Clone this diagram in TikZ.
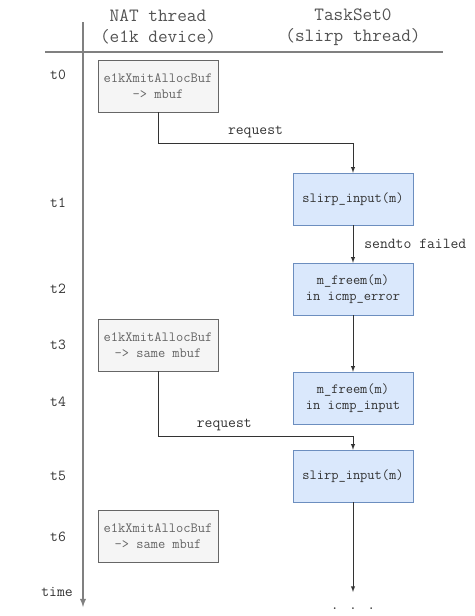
\documentclass[tikz,border=0pt]{standalone}
\usepackage{fontspec}
\definecolor{natfill}{HTML}{F5F5F5}
\definecolor{natline}{HTML}{666666}
\definecolor{slirpfill}{HTML}{DAE8FC}
\definecolor{slirpline}{HTML}{6C8EBF}
\definecolor{axisgray}{HTML}{808080}
\definecolor{txtgray}{HTML}{333333}
\begin{document}
\begin{tikzpicture}[x=0.03cm,y=-0.03cm,>=latex,
  natbox/.style={draw=natline,fill=natfill,text=natline,minimum width=3.6cm,minimum height=1.56cm,
    inner sep=0pt,align=center,font=\fontsize{12}{13.5}\selectfont\ttfamily},
  slirpbox/.style={draw=slirpline,fill=slirpfill,text=txtgray,minimum width=3.6cm,minimum height=1.56cm,
    inner sep=0pt,align=center,font=\fontsize{12}{13.5}\selectfont\ttfamily},
  head/.style={text=txtgray!85,align=center,font=\fontsize{16}{18}\selectfont\ttfamily},
  tlab/.style={text=txtgray,font=\fontsize{13}{14}\selectfont\ttfamily},
  msg/.style={text=txtgray,font=\fontsize{13}{14}\selectfont\ttfamily},
  flow/.style={->,draw=txtgray,line width=0.7pt}]
 \useasboundingbox (0,0) rectangle (474,616);
 \node[head] (hnat) at (158,27) {NAT thread\\(e1k device)};
 \node[head] (hslirp) at (353,27) {TaskSet0\\(slirp thread)};
 \coordinate (ttop) at (83,22);
 \coordinate (tbot) at (83,607);
 \draw[->,axisgray,line width=1.4pt] (ttop)--(tbot);
 \draw[axisgray,line width=1.2pt] (45,52)--(443,52);
 \node[tlab] (t0) at (58,75) {t0};
 \node[tlab] (t1) at (58,203) {t1};
 \node[tlab] (t2) at (58,289) {t2};
 \node[tlab] (t3) at (58,345) {t3};
 \node[tlab] (t4) at (58,402) {t4};
 \node[tlab] (t5) at (58,476) {t5};
 \node[tlab] (t6) at (58,537) {t6};
 \node[tlab] (ttime) at (57,592) {time};
 \node[natbox] (alloc0) at (158,86) {e1kXmitAllocBuf\\-> mbuf};
 \node[natbox] (alloc1) at (158,345) {e1kXmitAllocBuf\\-> same mbuf};
 \node[natbox] (alloc2) at (158,536) {e1kXmitAllocBuf\\-> same mbuf};
 \node[slirpbox] (input0) at (353,199) {slirp\_input(m)};
 \node[slirpbox] (freeerr) at (353,289) {m\_freem(m)\\in icmp\_error};
 \node[slirpbox] (freein) at (353,398) {m\_freem(m)\\in icmp\_input};
 \node[slirpbox] (input1) at (353,476) {slirp\_input(m)};
 \coordinate (tail) at (353,592);
 \node[msg] (dots) at (353,609) {. . .};
 \draw[flow] (alloc0.south)--++(0,31) coordinate (req0)--(req0-|input0)
   node[msg,midway,above,yshift=1pt]{request}--(input0.north);
 \draw[flow] (input0)--(freeerr) node[msg,midway,right,xshift=6pt]{sendto failed};
 \draw[flow] (freeerr)--(freein);
 \draw[flow] (alloc1.south)--++(0,65) coordinate (req1)--(req1-|input1)
   node[msg,pos=0.34,above,yshift=1pt]{request}--(input1.north);
 \draw[flow] (input1)--(tail);
\end{tikzpicture}
\end{document}
